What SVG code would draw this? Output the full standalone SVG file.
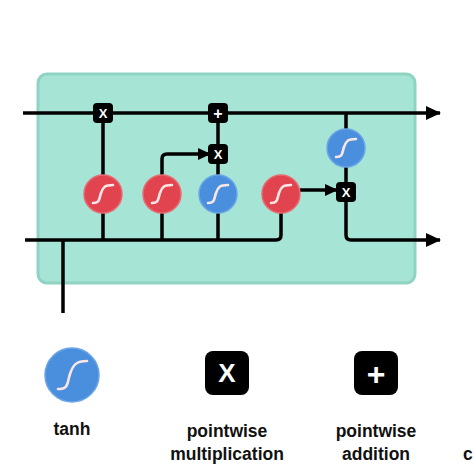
<svg xmlns="http://www.w3.org/2000/svg" width="474" height="474" viewBox="0 0 474 474">
<defs>
<style>
.ln{fill:none;stroke:#000;stroke-width:3.5;stroke-linejoin:round}
.red{fill:#e2444f;stroke:#e86a72;stroke-width:1.5}
.blue{fill:#4a8fde;stroke:#6aa6e6;stroke-width:1.5}
.s{fill:none;stroke:#fbe6e6;stroke-width:2.6;stroke-linecap:round}
.op{fill:#000}
.opt{fill:#fff;font-family:"Liberation Sans",Arial,sans-serif;font-weight:bold;text-anchor:middle}
.lbl{fill:#111;font-family:"Liberation Sans",Arial,sans-serif;font-weight:bold;font-size:17.5px;text-anchor:middle}
</style>
<marker id="ah" markerWidth="15" markerHeight="14" refX="14" refY="7" orient="auto" markerUnits="userSpaceOnUse">
<path d="M0,0 L15,7 L0,14 Z" fill="#000"/>
</marker>
<marker id="ahs" markerWidth="13" markerHeight="12" refX="12" refY="6" orient="auto" markerUnits="userSpaceOnUse">
<path d="M0,0 L13,6 L0,12 Z" fill="#000"/>
</marker>
<symbol id="sig" viewBox="-19 -19 38 38" overflow="visible">
<path class="s" d="M-10,9 C-3,9 -4,5 -2,-1 C0,-7 2,-9 10,-9"/>
</symbol>
</defs>
<rect x="38" y="74" width="377" height="209" rx="9" fill="#a6e4d5" stroke="#8fd3c2" stroke-width="3"/>
<g id="connectors">
<path class="ln" d="M23,113 H440" marker-end="url(#ah)"/>
<path class="ln" d="M25,240 H276 Q281,240 281,235 V194"/>
<path class="ln" d="M63,240 V313"/>
<path class="ln" d="M103,113 V240"/>
<path class="ln" d="M162,240 V159 Q162,154 167,154 H210" marker-end="url(#ahs)"/>
<path class="ln" d="M218,113 V240"/>
<path class="ln" d="M300,190 H337" marker-end="url(#ahs)"/>
<path class="ln" d="M346,113 V235 Q346,240 351,240 H440" marker-end="url(#ah)"/>
</g>
<g id="mul1"><rect class="op" x="93" y="103" width="20" height="20" rx="4"/><text class="opt" x="103" y="118" font-size="13">X</text></g>
<g id="add1"><rect class="op" x="208" y="103" width="20" height="20" rx="4"/><text class="opt" x="218" y="119" font-size="16">+</text></g>
<g id="mul2"><rect class="op" x="208" y="144" width="20" height="20" rx="4"/><text class="opt" x="218" y="159" font-size="13">X</text></g>
<g id="mul3"><rect class="op" x="336" y="182" width="20" height="20" rx="4"/><text class="opt" x="346" y="197" font-size="13">X</text></g>
<g id="sig1"><circle class="red" cx="103" cy="194" r="19"/><use href="#sig" x="84" y="175" width="38" height="38"/></g>
<g id="sig2"><circle class="red" cx="162" cy="194" r="19"/><use href="#sig" x="143" y="175" width="38" height="38"/></g>
<g id="tanh1"><circle class="blue" cx="218" cy="194" r="19"/><use href="#sig" x="199" y="175" width="38" height="38"/></g>
<g id="sig3"><circle class="red" cx="281" cy="194" r="19"/><use href="#sig" x="262" y="175" width="38" height="38"/></g>
<g id="tanh2"><circle class="blue" cx="346" cy="148" r="19"/><use href="#sig" x="327" y="129" width="38" height="38"/></g>
<g id="legend-tanh"><circle class="blue" cx="72" cy="375" r="27"/><path class="s" d="M58,389 C69,389 67,383 70,374 C73,365 76,361 87,361" stroke-width="3.5"/><text class="lbl" x="72" y="435">tanh</text></g>
<g id="legend-mul"><rect class="op" x="205" y="351" width="44" height="44" rx="8"/><text class="opt" x="227" y="382" font-size="26">X</text><text class="lbl" x="227" y="437">pointwise</text><text class="lbl" x="227" y="460">multiplication</text></g>
<g id="legend-add"><rect class="op" x="354" y="351" width="44" height="44" rx="8"/><text class="opt" x="376" y="385" font-size="32">+</text><text class="lbl" x="376" y="437">pointwise</text><text class="lbl" x="376" y="460">addition</text></g>
<g id="legend-cut"><text class="lbl" x="463" y="460" style="text-anchor:start">c</text></g>
</svg>
